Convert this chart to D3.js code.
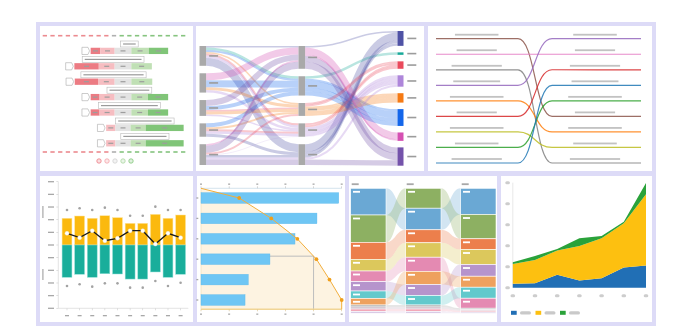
<!DOCTYPE html>
<html><head><meta charset="utf-8">
<script src="https://cdn.jsdelivr.net/npm/d3@7"></script>
<style>html,body{margin:0;padding:0;background:#fff;}svg{display:block;}</style>
</head><body>
<svg id="c" width="695" height="336"></svg>
<script>
// ================= DATA =================
// Panel 1 : diverging Likert bars
const likertRows = ["Q1","Q2","Q3","Q4","Q5","Q6","Q7"];
const likertLabelLen = [4,17,18,12,17,16,13];
const strongDisagree = [12.5,31.5,30,11.5,11.5,0,0];
const disagree       = [18.5,20.5,21.5,19.5,19.5,12,12];
const neutral        = [21.5,21.5,21.5,21.5,21.5,19.5,19.5];
const agree          = [22.5,26.5,27,21.5,21.5,19.5,19.5];
const strongAgree    = [25,0,0,26,26,49,49];

// Panel 2 : three-stage sankey (path flows)
const sankeyCol1 = ["A1","A2","A3","A4","A5"];
const sankeyCol2 = ["B1","B2","B3","B4","B5"];
const sankeyCol3 = ["T1","T2","T3","T4","T5","T6","T7","T8"];
const sankeyFlows = [
  ["A1","B1","T1",1.5],["A1","B5","T1",8],["A1","B2","T2",2.5],["A1","B2","T6",2],["A1","B3","T5",1.5],["A1","B4","T3",2],["A1","B4","T4",2.5],
  ["A2","B1","T7",7],["A2","B2","T6",7],["A2","B3","T5",3],["A2","B4","T4",2.5],
  ["A3","B1","T8",6],["A3","B2","T6",4],["A3","B3","T5",3],["A3","B3","T3",1.5],["A3","B4","T4",1.5],
  ["A4","B5","T1",3],["A4","B2","T6",4],["A4","B3","T5",2],["A4","B4","T3",2],["A4","B4","T4",2.5],
  ["A5","B5","T1",2.5],["A5","B1","T7",1.5],["A5","B1","T8",7],["A5","B5","T8",5.5],["A5","B5","T4",2],["A5","B3","T3",2],["A5","B4","T4",0.5]
];

// Panel 3 : bump chart
const bumpSeries = ["S1","S2","S3","S4","S5","S6","S7","S8","S9"];
const bumpStart = [1,2,3,4,5,6,7,8,9];
const bumpEnd   = [6,2,9,1,7,3,8,5,4];
const bumpRowLabelLen = [13,12,15,14,16,12,16,13,15];

// Panel 4 : positive / negative bars with net line
const p4Cats = ["1","2","3","4","5","6","7","8","9","10"];
const posVals = [21.1,22.9,21.1,23.1,21.6,17.1,17.1,24.2,21.1,23.7];
const negVals = [-25.5,-23.1,-25.5,-22.7,-22.9,-26.9,-26.9,-21.3,-25.5,-23.1];
const netVals = [9.2,5.8,11.3,3.4,5.3,11.3,11.3,0.8,9.2,5.8];
const upperMarks = [27.6,29,27.6,29.5,27.6,23.1,23.1,30.3,27.6,27.6];
const lowerMarks = [-32.4,-31,-32.9,-30.3,-30.3,-33.7,-33.7,-28.4,-32.4,-29.8];
const p4Ticks = [-50,-40,-30,-20,-10,0,10,20,30,40,50];

// Panel 5 : pareto
const paretoCats = ["C1","C2","C3","C4","C5","C6"];
const paretoVals = [97.9,82.4,66.8,49,33.6,31.3];
const paretoTicks = [0,20,40,60,80,100];
const paretoMark = 80;

// Panel 6 : alluvial stacked columns
const stages = ["Stage 1","Stage 2","Stage 3"];
const flowCats = ["Blue","Green","Orange","Yellow","Pink","Purple","Teal","Tan","Grey","Mauve","Rose","Lilac"];
const stage1Vals = [26.7,27.3,17,11.7,10.7,9.3,7.3,6.7,2,2,2.3,2];
const stage2Vals = [21.6,19.9,13,14.4,14.1,11,9.5,13.2,2,2,2.3,2];
const stage3Vals = [26.2,24.3,10.7,15,10,11.7,11,11,1.5,1.2,1.2,1.2];
const stage1Order = ["Blue","Green","Orange","Yellow","Pink","Purple","Teal","Tan","Grey","Mauve","Rose","Lilac"];
const stage2Order = ["Green","Blue","Orange","Yellow","Pink","Tan","Purple","Teal","Grey","Mauve","Rose","Lilac"];
const stage3Order = ["Blue","Green","Orange","Yellow","Purple","Tan","Teal","Pink","Grey","Mauve","Rose","Lilac"];

// Panel 7 : stacked area
const areaX = [1,2,3,4,5,6,7];
const areaBlue   = [3.8,4.4,12.3,6.9,9.2,19.3,21.2];
const areaYellow = [18.9,22.1,23.1,32.9,37.9,42,67.9];
const areaGreen  = [1.7,3.8,1.6,7.3,2.2,1.6,10.7];
const areaTicks = [0,20,40,60,80,100];

// ================= DRAW =================
const svg = d3.select("#c");
const R = (sel,x,y,w,h,fill,rx) => sel.append("rect").attr("x",x).attr("y",y).attr("width",Math.max(0,w)).attr("height",h).attr("rx",rx||0).attr("fill",fill);

svg.append("rect").attr("x",36).attr("y",22).attr("width",620).attr("height",304).attr("fill","#dddbf7");
[[40,26,153,145],[196,26,228,145],[428,26,224,145],[40,176,153,146],[197,176,148,146],[349,176,148,146],[501,176,151,146]]
  .forEach(p=>R(svg,p[0],p[1],p[2],p[3],"#fff"));

// ---------- Panel 1 ----------
(function(){
  const g = svg.append("g");
  const x = d3.scaleLinear().domain([-100,100]).range([45.5,200.5]);
  const y = d3.scalePoint().domain(likertRows).range([50.9,143.3]);
  const cols = ["#ec7b83","#f6bdc1","#e3e3e3","#c0e0b5","#80c578"];
  const series = [strongDisagree,disagree,neutral,agree,strongAgree];
  const dash = d3.scaleLinear().domain([0,19]).range([42.7,188.7]);
  [35.7,152].forEach(yy=>d3.range(19).forEach(k=>R(g,dash(k),yy-0.8,4.3,1.6,k<9?"#ec8b90":(k===9?"#b0b0b0":"#86c47f"))));
  likertRows.forEach((r,i)=>{
    const cy = y(r);
    const vals = series.map(s=>s[i]);
    const start = -(vals[0]+vals[1]+vals[2]/2);
    const left = x(start);
    const bw = likertLabelLen[i]*3.4+4;
    const mid = x(start+50);
    g.append("rect").attr("x",mid-bw/2).attr("y",cy-9.9).attr("width",bw).attr("height",6)
      .attr("fill","#fff").attr("stroke","#b9b9b9").attr("stroke-width",0.6);
    R(g,mid-bw/2+2.5,cy-7.5,bw-5,1.2,"#9a9a9a");
    g.append("path").attr("d",`M${left-8.7},${cy-3.6}h6l1.6,3.6l-1.6,3.6h-6Z`)
      .attr("fill","#fff").attr("stroke","#aaa").attr("stroke-width",0.6);
    let acc = start;
    vals.forEach((v,k)=>{
      if(v>0){
        const x0=x(acc), x1=x(acc+v);
        R(g,x0,cy-3.15,x1-x0,6.3,cols[k]);
        R(g,(x0+x1)/2-2.5,cy-0.6,5,1.2,"#9d9d9d");
      }
      acc+=v;
    });
  });
  const cx = d3.scalePoint().domain(d3.range(5)).range([99,131]);
  const cStroke = ["#ec7b83","#f2a2a8","#d0d0d0","#a9d69f","#80c578"];
  d3.range(5).forEach(k=>g.append("circle").attr("cx",cx(k)).attr("cy",161).attr("r",2.2)
    .attr("fill",cStroke[k]).attr("fill-opacity",0.25).attr("stroke",cStroke[k]).attr("stroke-width",0.8));
})();

// ---------- Panel 2 ----------
(function(){
  const g = svg.append("g");
  const cols = [sankeyCol1,sankeyCol2,sankeyCol3];
  const tColor = {T1:"#4f52a5",T2:"#18a999",T3:"#ea4a5c",T4:"#ae86da",T5:"#f57a14",T6:"#1466ea",T7:"#d550b2",T8:"#7452aa"};
  const colX = d3.scalePoint().domain([0,1,2]).range([199.5,397.5]);
  const nodeW = [6.6,6.6,6];
  const ext = [[46,165],[46,165],[31,165.7]];
  const total = d3.sum(sankeyFlows,f=>f[3]);
  const ky = d3.scaleLinear().domain([0,total]).range([0,89.1]);
  const nodes = {};
  cols.forEach((col,ci)=>{
    const vals = col.map(n=>d3.sum(sankeyFlows.filter(f=>f[ci]===n),f=>f[3]));
    const th = ky(d3.sum(vals));
    const pad = (ext[ci][1]-ext[ci][0]-th)/(col.length-1);
    let yy = ext[ci][0];
    col.forEach((n,j)=>{const h=ky(vals[j]); nodes[n]={ci,idx:j,name:n,x0:colX(ci),x1:colX(ci)+nodeW[ci],y0:yy,y1:yy+h}; yy+=h+pad;});
  });
  const fl = sankeyFlows.map(f=>({a:nodes[f[0]],b:nodes[f[1]],t:nodes[f[2]],w:ky(f[3]),c:tColor[f[2]]}));
  d3.groups(fl,d=>d.a).forEach(([n,arr])=>{arr.sort((p,q)=>p.b.idx-q.b.idx||p.t.idx-q.t.idx);let yy=n.y0;arr.forEach(d=>{d.ya=yy+d.w/2;yy+=d.w;});});
  d3.groups(fl,d=>d.b).forEach(([n,arr])=>{
    let yy=n.y0; arr.slice().sort((p,q)=>p.a.idx-q.a.idx||p.t.idx-q.t.idx).forEach(d=>{d.ybi=yy+d.w/2;yy+=d.w;});
    yy=n.y0; arr.slice().sort((p,q)=>p.t.idx-q.t.idx||p.a.idx-q.a.idx).forEach(d=>{d.ybo=yy+d.w/2;yy+=d.w;});
  });
  d3.groups(fl,d=>d.t).forEach(([n,arr])=>{arr.sort((p,q)=>p.b.idx-q.b.idx||p.a.idx-q.a.idx);let yy=n.y0;arr.forEach(d=>{d.yt=yy+d.w/2;yy+=d.w;});});
  const link = d3.linkHorizontal();
  const lg = g.append("g").attr("fill","none").attr("stroke-opacity",0.3);
  fl.forEach(d=>{
    lg.append("path").attr("d",link({source:[d.a.x1,d.ya],target:[d.b.x0,d.ybi]})).attr("stroke",d.c).attr("stroke-width",d.w);
    lg.append("path").attr("d",link({source:[d.b.x1,d.ybo],target:[d.t.x0,d.yt]})).attr("stroke",d.c).attr("stroke-width",d.w);
  });
  Object.values(nodes).forEach(n=>{
    R(g,n.x0,n.y0,n.x1-n.x0,n.y1-n.y0,n.ci<2?"#a9a9a9":tColor[n.name]);
    R(g,n.x1+(n.ci<2?3:3.8),(n.y0+n.y1)/2-0.8,9,1.6,"#9c9c9c");
  });
})();

// ---------- Panel 3 ----------
(function(){
  const g = svg.append("g");
  const colors = {S1:"#8c564b",S2:"#e377c2",S3:"#7f7f7f",S4:"#9467bd",S5:"#ff7f0e",S6:"#d62728",S7:"#bcbd22",S8:"#2ca02c",S9:"#1f77b4"};
  const y = d3.scalePoint().domain(d3.range(1,10)).range([38.7,163]);
  const x = d3.scaleLinear().domain([0,1]).range([436,641]);
  const line = d3.line().curve(d3.curveBumpX);
  d3.range(1,10).forEach((r,i)=>{
    const w = bumpRowLabelLen[i]*3.35;
    R(g,476.7-w/2,y(r)-4.9,w,1.8,"#c2c2c2");
    R(g,595-w/2,y(r)-4.9,w,1.8,"#c2c2c2");
  });
  bumpSeries.forEach((s,i)=>{
    const y0=y(bumpStart[i]), y1=y(bumpEnd[i]);
    g.append("path").attr("d",line([[x(0),y0],[x(0.4),y0],[x(0.566),y1],[x(1),y1]]))
      .attr("fill","none").attr("stroke",colors[s]).attr("stroke-width",1.2).attr("stroke-opacity",0.85);
  });
})();

// ---------- Panel 4 ----------
(function(){
  const g = svg.append("g");
  const x = d3.scaleBand().domain(p4Cats).range([59.3,188.3]).padding(0.22);
  const y = d3.scaleLinear().domain([-50,50]).range([308.3,181.7]);
  g.append("line").attr("x1",58.3).attr("x2",58.3).attr("y1",y(50)).attr("y2",y(-50)).attr("stroke","#ddd").attr("stroke-width",0.8);
  g.append("line").attr("x1",58.3).attr("x2",188.3).attr("y1",y(-50)).attr("y2",y(-50)).attr("stroke","#ddd").attr("stroke-width",0.8);
  p4Ticks.forEach(t=>{ R(g,48,y(t)-0.65,6,1.3,"#a8a8a8"); R(g,56.3,y(t)-0.3,2,0.6,"#ccc"); });
  R(g,42.3,206,1.2,12,"#a8a8a8"); R(g,42.3,269,1.2,11,"#a8a8a8");
  p4Cats.forEach(c=>{ const cx=x(c)+x.bandwidth()/2; R(g,cx-0.3,y(-50),0.6,2,"#ccc"); R(g,cx-2,315,4,1.3,"#a8a8a8"); });
  p4Cats.forEach((c,i)=>{
    g.append("rect").attr("x",x(c)).attr("y",y(posVals[i])).attr("width",x.bandwidth()).attr("height",y(0)-y(posVals[i]))
      .attr("fill","#fbb90e").attr("stroke","#fde39a").attr("stroke-width",0.5);
    g.append("rect").attr("x",x(c)).attr("y",y(0)).attr("width",x.bandwidth()).attr("height",y(negVals[i])-y(0))
      .attr("fill","#19ae9b").attr("stroke","#8fe0d6").attr("stroke-width",0.5);
    const cx=x(c)+x.bandwidth()/2;
    g.append("circle").attr("cx",cx).attr("cy",y(upperMarks[i])).attr("r",1.3).attr("fill","#a3a3a3");
    g.append("circle").attr("cx",cx).attr("cy",y(lowerMarks[i])).attr("r",1.3).attr("fill","#a3a3a3");
  });
  const line = d3.line().x((d,i)=>x(p4Cats[i])+x.bandwidth()/2).y(d=>y(d));
  g.append("path").attr("d",line(netVals)).attr("fill","none").attr("stroke","#1a1a1a").attr("stroke-width",1.3);
  netVals.forEach((v,i)=>g.append("circle").attr("cx",x(p4Cats[i])+x.bandwidth()/2).attr("cy",y(v)).attr("r",2)
    .attr("fill","#fff").attr("stroke","#eee").attr("stroke-width",0.4));
})();

// ---------- Panel 5 ----------
(function(){
  const g = svg.append("g");
  const top=188.3, bottom=309.3;
  const x = d3.scaleLinear().domain([0,100]).range([201,341.7]);
  const y = d3.scalePoint().domain(paretoCats).range([198,300]);
  const step = y.step(), bh = step*0.52;
  const tot = d3.sum(paretoVals);
  const cum = Array.from(d3.cumsum(paretoVals)).map(v=>v/tot*100);
  const pts = [{v:0,y:top}].concat(paretoCats.map((c,i)=>({v:cum[i],y:y(c)}))).concat([{v:100,y:bottom}]);
  g.append("path").attr("d",d3.area().y(d=>d.y).x0(x(0)).x1(d=>x(d.v))(pts)).attr("fill","#fdf3e1");
  // 80% reference
  let y80=top;
  for(let i=1;i<pts.length;i++){ if(pts[i].v>=paretoMark){ const a=pts[i-1],b=pts[i]; y80=a.y+(paretoMark-a.v)/(b.v-a.v)*(b.y-a.y); break; } }
  g.append("line").attr("x1",x(0)).attr("x2",x(paretoMark)).attr("y1",y80).attr("y2",y80).attr("stroke","#bdbdbd").attr("stroke-width",1);
  g.append("line").attr("x1",x(paretoMark)).attr("x2",x(paretoMark)).attr("y1",y80).attr("y2",bottom).attr("stroke","#bdbdbd").attr("stroke-width",1);
  // axes
  g.append("line").attr("x1",x(0)).attr("x2",x(100)).attr("y1",top).attr("y2",top).attr("stroke","#c9dcea").attr("stroke-width",0.8);
  g.append("line").attr("x1",x(0)).attr("x2",x(100)).attr("y1",bottom).attr("y2",bottom).attr("stroke","#f1d596").attr("stroke-width",1.6);
  g.append("line").attr("x1",x(0)).attr("x2",x(0)).attr("y1",top).attr("y2",bottom).attr("stroke","#f3e2bd").attr("stroke-width",0.8);
  paretoTicks.forEach(t=>{
    R(g,x(t)-0.3,top-2,0.6,2,"#bbb"); R(g,x(t)-1,top-4.8,2,1.3,"#a8a8a8");
    R(g,x(t)-0.3,bottom,0.6,2,"#d8c08a"); R(g,x(t)-1,313.5,2,1.3,"#a8a8a8");
  });
  paretoCats.forEach((c,i)=>{
    R(g,196.3,y(c)-0.65,2,1.3,"#a8a8a8");
    g.append("rect").attr("x",x(0)).attr("y",y(c)-bh/2).attr("width",x(paretoVals[i])-x(0)).attr("height",bh)
      .attr("fill","#6fc6f4").attr("stroke","#5ab8ea").attr("stroke-width",0.4);
  });
  g.append("path").attr("d",d3.line().x(d=>x(d.v)).y(d=>d.y)(pts)).attr("fill","none").attr("stroke","#f2ae3c").attr("stroke-width",1);
  paretoCats.forEach((c,i)=>g.append("circle").attr("cx",x(cum[i])).attr("cy",y(c)).attr("r",1.9).attr("fill","#f09f1c"));
})();

// ---------- Panel 6 ----------
(function(){
  const g = svg.append("g");
  const colors = {Blue:"#6aa8d4",Green:"#8db062",Orange:"#ec7f4c",Yellow:"#dcc85c",Pink:"#e48ab2",Purple:"#b694cc",Teal:"#62c9cc",Tan:"#eea15e",Grey:"#ababab",Mauve:"#c6b3c0",Rose:"#f2a8b8",Lilac:"#d9cbe6"};
  const vals = [stage1Vals,stage2Vals,stage3Vals];
  const orders = [stage1Order,stage2Order,stage3Order];
  const sx = d3.scalePoint().domain(stages).range([350.7,460.7]);
  const cw = 35.3;
  const segs = stages.map((s,si)=>{
    const y = d3.scaleLinear().domain([0,d3.sum(vals[si])]).range([188.3,313.3]);
    const m = {}; let acc=0;
    orders[si].forEach(c=>{ const v=vals[si][flowCats.indexOf(c)]; m[c]={y0:y(acc),y1:y(acc+v)}; acc+=v; });
    return m;
  });
  for(let si=0;si<stages.length-1;si++){
    const xa=sx(stages[si])+cw, xb=sx(stages[si+1]), xm=(xa+xb)/2;
    flowCats.forEach(c=>{
      const a=segs[si][c], b=segs[si+1][c];
      g.append("path").attr("d",`M${xa},${a.y0}C${xm},${a.y0} ${xm},${b.y0} ${xb},${b.y0}L${xb},${b.y1}C${xm},${b.y1} ${xm},${a.y1} ${xa},${a.y1}Z`)
        .attr("fill",colors[c]).attr("fill-opacity",0.3);
    });
  }
  stages.forEach((s,si)=>{
    const x0=sx(s);
    R(g,x0+1,183.3,7,1.8,"#a8a8a8");
    orders[si].forEach(c=>{
      const d=segs[si][c];
      g.append("rect").attr("x",x0).attr("y",d.y0).attr("width",cw).attr("height",d.y1-d.y0)
        .attr("fill",colors[c]).attr("stroke","#fff").attr("stroke-width",0.6);
      if(d.y1-d.y0>6) R(g,x0+2.3,d.y0+2.6,7,1.8,"#fff");
    });
  });
})();

// ---------- Panel 7 ----------
(function(){
  const g = svg.append("g");
  const x = d3.scalePoint().domain(areaX).range([512.8,646]);
  const y = d3.scaleLinear().domain([0,100]).range([287.8,182.7]);
  const rows = areaX.map((d,i)=>({x:d,blue:areaBlue[i],yellow:areaYellow[i],green:areaGreen[i]}));
  const keys=["blue","yellow","green"], colors={blue:"#216fb5",yellow:"#fdc010",green:"#2aa23a"};
  g.append("line").attr("x1",512.8).attr("x2",512.8).attr("y1",y(100)).attr("y2",y(0)).attr("stroke","#e2e2e2").attr("stroke-width",0.8);
  areaTicks.forEach(t=>R(g,505.3,y(t)-1.5,4.6,3,"#cdcdcd",1.5));
  areaX.forEach(d=>R(g,x(d)-2.3,294.2,4.6,3,"#cdcdcd",1.5));
  const st = d3.stack().keys(keys)(rows);
  const area = d3.area().x(d=>x(d.data.x)).y0(d=>y(d[0])).y1(d=>y(d[1]));
  st.forEach(s=>g.append("path").attr("d",area(s)).attr("fill",colors[s.key]));
  const lx = d3.scalePoint().domain(keys).range([511,560]);
  keys.forEach(k=>{ R(g,lx(k),310.8,5.7,4,colors[k]); R(g,lx(k)+9,311.2,11,3.4,"#c9c9c9",1.7); });
})();
</script>
</body></html>
